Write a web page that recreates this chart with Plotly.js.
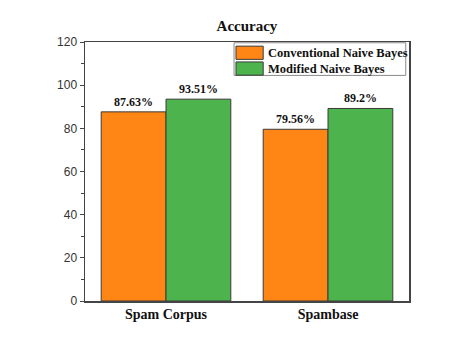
<!DOCTYPE html>
<html><head><meta charset="utf-8">
<script src="https://cdn.plot.ly/plotly-3.0.1.min.js"></script>
<style>html,body{margin:0;padding:0;background:#fff}#chart{width:474px;height:362px}</style>
</head><body><div id="chart"></div>
<script>
const categories = ["Spam Corpus", "Spambase"];
const seriesNames = ["Conventional Naive Bayes", "Modified Naive Bayes"];
const conventional = [87.63, 79.56];
const modified = [93.51, 89.2];
const yTicks = [0, 20, 40, 60, 80, 100, 120];

const serif = "Liberation Serif, Times New Roman, serif";
const colors = ["#FF8614", "#4DB34D"];

const traces = [conventional, modified].map((vals, i) => ({
  type: "bar",
  name: seriesNames[i],
  x: categories,
  y: vals,
  text: vals.map(v => v + "%"),
  texttemplate: "%{text}",
  textposition: "outside",
  cliponaxis: false,
  textfont: {family: serif, size: 12, color: "#111", weight: "bold"},
  marker: {color: colors[i], line: {color: "#3a3a3a", width: 1}},
  hoverinfo: "skip",
  showlegend: false
}));

// Legend drawn in paper coordinates (box, wide swatches, labels)
const lg = {x0: 0.46, x1: 0.99, y0: 0.871, y1: 0.997, swX0: 0.006, swX1: 0.09, rowH: 0.061, swH: 0.051, top: 0.984};
const shapes = [{type: "rect", xref: "paper", yref: "paper", x0: lg.x0, x1: lg.x1, y0: lg.y0, y1: lg.y1,
                 line: {color: "#8a8a8a", width: 1}, fillcolor: "#fff", layer: "above"}];
const annotations = [];
seriesNames.forEach((name, i) => {
  const yt = lg.top - i * lg.rowH;
  shapes.push({type: "rect", xref: "paper", yref: "paper",
    x0: lg.x0 + lg.swX0, x1: lg.x0 + lg.swX1, y0: yt - lg.swH, y1: yt,
    fillcolor: colors[i], line: {color: "#3a3a3a", width: 1}, layer: "above"});
  annotations.push({xref: "paper", yref: "paper", x: lg.x0 + lg.swX1 + 0.01, y: yt - lg.swH / 2,
    xanchor: "left", yanchor: "middle", showarrow: false, text: "<b>" + name + "</b>",
    font: {family: serif, size: 12.5, color: "#111"}});
});

const layout = {
  width: 474, height: 362,
  margin: {l: 85, r: 65, t: 42, b: 61, pad: 0},
  paper_bgcolor: "#fff", plot_bgcolor: "#fff",
  barmode: "group", bargap: 0.2, bargroupgap: 0,
  title: {text: "<b>Accuracy</b>", x: 0.521, xanchor: "center", y: 0.93, yanchor: "middle",
          font: {family: serif, size: 15, color: "#111"}},
  xaxis: {
    showline: true, linecolor: "#444", linewidth: 1.5, mirror: true,
    ticks: "", showgrid: false, zeroline: false,
    tickfont: {family: serif, size: 14, color: "#111", weight: "bold"},
    ticklabelstandoff: 0
  },
  yaxis: {
    range: [0, 120], tickvals: yTicks, ticktext: yTicks.map(String),
    showline: true, linecolor: "#444", linewidth: 1.5, mirror: true,
    ticks: "outside", ticklen: 4, tickwidth: 1, tickcolor: "#444",
    minor: {dtick: 10, ticks: "outside", ticklen: 2.5, tickcolor: "#444", showgrid: false},
    showgrid: false, zeroline: false,
    tickfont: {family: "Liberation Sans, Arial, sans-serif", size: 12, color: "#333"}
  },
  showlegend: false,
  shapes: shapes,
  annotations: annotations
};

Plotly.newPlot("chart", traces, layout, {displayModeBar: false, staticPlot: true});
</script>
</body></html>
